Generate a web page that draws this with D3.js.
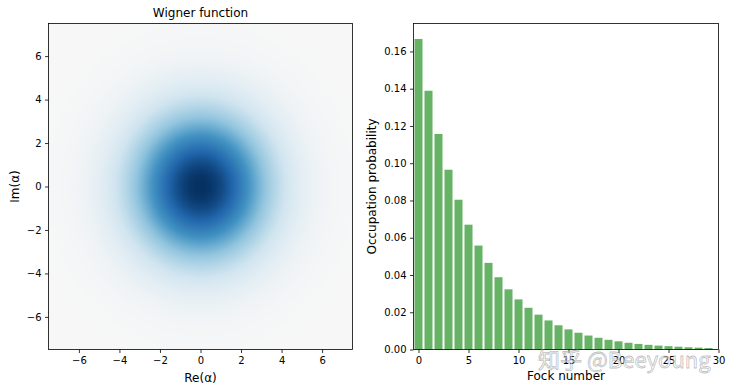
<!DOCTYPE html>
<html><head><meta charset="utf-8">
<script src="https://cdn.jsdelivr.net/npm/d3@7"></script>
<style>
html,body{margin:0;padding:0;background:#fff;}
svg{display:block;font-family:"DejaVu Sans",sans-serif;}
</style></head>
<body>
<svg id="chart" width="731" height="392"></svg>
<script>
// ---- data ----
const fockNumbers = [0,1,2,3,4,5,6,7,8,9,10,11,12,13,14,15,16,17,18,19,20,21,22,23,24,25,26,27,28,29];
const occupation = [0.1667,0.1389,0.1157,0.0965,0.0804,0.0670,0.0558,0.0465,0.0388,0.0323,
                    0.0269,0.0224,0.0187,0.0156,0.0130,0.0108,0.0090,0.0075,0.0063,0.0052,
                    0.0044,0.0036,0.0030,0.0025,0.0021,0.0018,0.0015,0.0012,0.0010,0.0008];
const fockTicks = [0,5,10,15,20,25,30];
const probTicks = [0.00,0.02,0.04,0.06,0.08,0.10,0.12,0.14,0.16];
const phaseTicks = [-6,-4,-2,0,2,4,6];
const phaseExtent = [-7.5, 7.5];
const meanPhotonNumber = 5;   // thermal state shown in the Wigner plot
const rdbuColors = ["#67001f","#b2182b","#d6604d","#f4a582","#fddbc7","#f7f7f7","#d1e5f0","#92c5de","#4393c3","#2166ac","#053061"];

const svg = d3.select("#chart");

// ---- Left: Wigner function ----
const L = {x0:48.5, x1:352.5, y0:23.5, y1:349.5};
const wx = d3.scaleLinear().domain(phaseExtent).range([L.x0, L.x1]);
const wy = d3.scaleLinear().domain(phaseExtent).range([L.y1, L.y0]);

// Wigner function of the thermal state (qutip convention, g = sqrt(2))
const s = 2*meanPhotonNumber + 1;
const wigner = (x, p) => Math.exp(-(x*x + p*p)/s) / (Math.PI * s);
const wlim = wigner(0,0);
const color = d3.scaleLinear()
  .domain(rdbuColors.map((c,i)=> -wlim + 2*wlim*i/(rdbuColors.length-1)))
  .range(rdbuColors).interpolate(d3.interpolateRgb).clamp(true);

const W = Math.round(L.x1 - L.x0), H = Math.round(L.y1 - L.y0);
const cv = document.createElement("canvas");
cv.width = W; cv.height = H;
const ctx = cv.getContext("2d");
const img = ctx.createImageData(W, H);
for (let j=0;j<H;j++){
  const p = wy.invert(L.y0 + j + 0.5);
  for (let i=0;i<W;i++){
    const x = wx.invert(L.x0 + i + 0.5);
    const c = d3.rgb(color(wigner(x,p)));
    const k = (j*W+i)*4;
    img.data[k]=c.r; img.data[k+1]=c.g; img.data[k+2]=c.b; img.data[k+3]=255;
  }
}
ctx.putImageData(img,0,0);
svg.append("image").attr("x",L.x0).attr("y",L.y0).attr("width",W).attr("height",H)
  .attr("preserveAspectRatio","none").attr("href",cv.toDataURL());

function styleAxis(g){
  g.selectAll("path").remove();
  g.selectAll("line").attr("stroke","#000").attr("stroke-width",0.8);
  g.selectAll("text").attr("font-size",10).attr("fill","#000").attr("font-family","DejaVu Sans");
}
const minus = d => (d<0? "\u2212"+Math.abs(d) : ""+d);
svg.append("g").attr("transform",`translate(0,${L.y1})`)
  .call(d3.axisBottom(wx).tickValues(phaseTicks).tickSize(3.5).tickPadding(3.5).tickFormat(minus)).call(styleAxis);
svg.append("g").attr("transform",`translate(${L.x0},0)`)
  .call(d3.axisLeft(wy).tickValues(phaseTicks).tickSize(3.5).tickPadding(3.5).tickFormat(minus)).call(styleAxis);
svg.append("rect").attr("x",L.x0).attr("y",L.y0).attr("width",L.x1-L.x0).attr("height",L.y1-L.y0)
  .attr("fill","none").attr("stroke","#000").attr("stroke-width",0.8);
svg.append("text").attr("x",(L.x0+L.x1)/2).attr("y",17).attr("text-anchor","middle")
  .attr("font-size",12).text("Wigner function");
svg.append("text").attr("x",(L.x0+L.x1)/2).attr("y",382).attr("text-anchor","middle")
  .attr("font-size",12).text("Re(α)");
svg.append("text").attr("transform",`translate(19,${(L.y0+L.y1)/2}) rotate(-90)`).attr("text-anchor","middle")
  .attr("font-size",12).text("Im(α)");

// ---- Right: Fock distribution ----
const R = {x0:413.5, x1:718.5, y0:23.5, y1:349.5};
const fx = d3.scaleLinear().domain([-0.5,30]).range([R.x0,R.x1]);
const fy = d3.scaleLinear().domain([0,0.175]).range([R.y1,R.y0]);
svg.append("g").selectAll("rect").data(fockNumbers).join("rect")
  .attr("x",d=>fx(d-0.4)).attr("width",d=>fx(d+0.4)-fx(d-0.4))
  .attr("y",(d,i)=>fy(occupation[i])).attr("height",(d,i)=>fy(0)-fy(occupation[i]))
  .attr("fill","green").attr("fill-opacity",0.6);
svg.append("g").attr("transform",`translate(0,${R.y1})`)
  .call(d3.axisBottom(fx).tickValues(fockTicks).tickSize(3.5).tickPadding(3.5).tickFormat(d3.format("d"))).call(styleAxis);
svg.append("g").attr("transform",`translate(${R.x0},0)`)
  .call(d3.axisLeft(fy).tickValues(probTicks).tickSize(3.5).tickPadding(3.5).tickFormat(d3.format(".2f"))).call(styleAxis);
svg.append("rect").attr("x",R.x0).attr("y",R.y0).attr("width",R.x1-R.x0).attr("height",R.y1-R.y0)
  .attr("fill","none").attr("stroke","#000").attr("stroke-width",0.8);
svg.append("text").attr("x",(R.x0+R.x1)/2).attr("y",380).attr("text-anchor","middle")
  .attr("font-size",12).text("Fock number");
svg.append("text").attr("transform",`translate(376,${(R.y0+R.y1)/2}) rotate(-90)`).attr("text-anchor","middle")
  .attr("font-size",12).text("Occupation probability");

// watermark
svg.append("text").attr("x",538).attr("y",368)
  .attr("font-family","'Noto Sans CJK SC',sans-serif").attr("font-size",22)
  .attr("fill","rgba(255,255,255,0.55)").attr("stroke","rgba(110,110,110,0.45)").attr("stroke-width",0.8)
  .text("知乎 @Beeyoung");
</script>
</body></html>
